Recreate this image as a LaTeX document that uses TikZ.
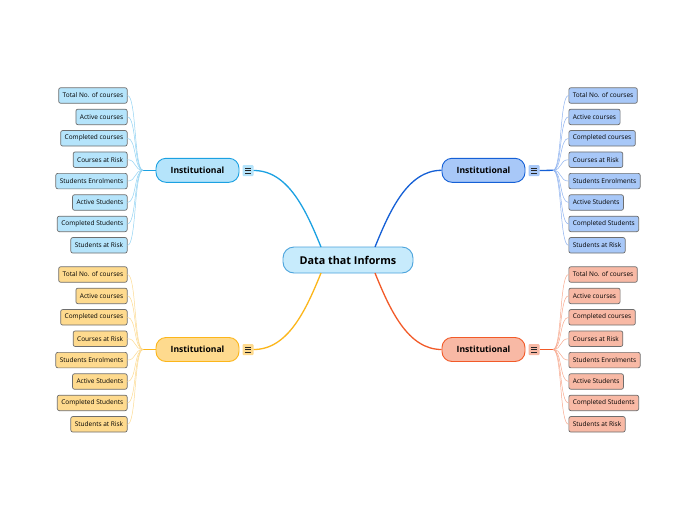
\documentclass[tikz,border=0pt]{standalone}
\usepackage{fontspec}
\setmainfont{Open Sans}
\definecolor{cfill}{HTML}{C7EBFC}
\definecolor{cdraw}{HTML}{4BA3DC}
\definecolor{afill}{HTML}{B5E4FB}
\definecolor{adraw}{HTML}{1BA1E2}
\definecolor{aleaf}{HTML}{92D3F3}
\definecolor{bfill}{HTML}{A8C8F8}
\definecolor{bdraw}{HTML}{1560D6}
\definecolor{bleaf}{HTML}{8FB3F0}
\definecolor{dfill}{HTML}{FEDA8E}
\definecolor{ddraw}{HTML}{FCB61A}
\definecolor{dleaf}{HTML}{FDDB92}
\definecolor{efill}{HTML}{F8B9A5}
\definecolor{edraw}{HTML}{F25A28}
\definecolor{eleaf}{HTML}{F8AA90}
\definecolor{leafgray}{HTML}{6E6E6E}
\begin{document}
\begin{tikzpicture}[x=1pt,y=-1pt,
  leafbox/.style={draw=leafgray, rounded corners=2pt, minimum height=15.5pt, inner xsep=4pt, inner ysep=0pt, font=\fontsize{6.5}{7.5}\selectfont, line width=0.7pt},
  instbox/.style={rounded corners=10pt, minimum width=83pt, minimum height=24pt, font=\bfseries\fontsize{8.6}{10}\selectfont, line width=0.9pt},
  centbox/.style={rounded corners=11pt, minimum width=130pt, minimum height=26pt, font=\bfseries\fontsize{10.8}{12}\selectfont, line width=0.9pt, fill=cfill, draw=cdraw},
  iconbox/.style={minimum width=11pt, minimum height=11pt, inner sep=0pt, rounded corners=1pt,
    path picture={\foreach \dy in {-2.6,0,2.6}{\draw[line width=0.6pt,black!85] ([xshift=-3pt,yshift=\dy pt]path picture bounding box.center) -- ([xshift=3pt,yshift=\dy pt]path picture bounding box.center);}}},
  mainline/.style={line width=1.3pt},
  fan/.style={line width=0.5pt}
]
\useasboundingbox (0,0) rectangle (697,520);
\fill[white] (0,0) rectangle (697,520);

% central
\node[centbox] (c) at (348,260) {Data that Informs};

% top-left
\node[instbox, fill=afill, draw=adraw] (a) at (197.5,170.3) {Institutional};
\node[iconbox, fill=afill] (ai) at (248,170.5) {};
\coordinate (aj) at (143,170.3);
% top-right
\node[instbox, fill=bfill, draw=bdraw] (b) at (483.5,170.3) {Institutional};
\node[iconbox, fill=bfill] (bi) at (534,170.5) {};
\coordinate (bj) at (553,170.3);
% bottom-left
\node[instbox, fill=dfill, draw=ddraw] (d) at (197.5,349.5) {Institutional};
\node[iconbox, fill=dfill] (di) at (248,349.5) {};
\coordinate (dj) at (143,349.5);
% bottom-right
\node[instbox, fill=efill, draw=edraw] (e) at (483.5,349.5) {Institutional};
\node[iconbox, fill=efill] (ei) at (534,349.5) {};
\coordinate (ej) at (553,349.5);

% main connectors
\coordinate (ctl) at (321,247);
\coordinate (ctr) at (375,247);
\coordinate (cbl) at (321,273);
\coordinate (cbr) at (375,273);
\draw[mainline, adraw] (ai.east) .. controls (288,170.5) and (306,210) .. (ctl);
\draw[mainline, bdraw] (b.west) .. controls (408,170.3) and (390,210) .. (ctr);
\draw[mainline, ddraw] (di.east) .. controls (288,349.5) and (306,310) .. (cbl);
\draw[mainline, edraw] (e.west) .. controls (408,349.5) and (390,310) .. (cbr);

% stubs
\draw[mainline, adraw] (a.west) -- (aj);
\draw[mainline, bdraw] (bi.east) -- (bj);
\draw[mainline, ddraw] (d.west) -- (dj);
\draw[mainline, edraw] (ei.east) -- (ej);

% leaves
\foreach \grp/\y/\fillc/\leafc in {a/95.5/afill/aleaf, d/274.5/dfill/dleaf}{
  \foreach \t [count=\i] in {Total No. of courses, Active courses, Completed courses, Courses at Risk, Students Enrolments, Active Students, Completed Students, Students at Risk}{
    \node[leafbox, fill=\fillc, anchor=east] (\grp l\i) at (127.5,{\y+(\i-1)*21.4}) {\t};
    \draw[fan, \leafc] (\grp j) .. controls ++(-9,0) and ([xshift=9pt]\grp l\i.east) .. (\grp l\i.east);
  }
}
\foreach \grp/\y/\fillc/\leafc in {b/95.5/bfill/bleaf, e/274.5/efill/eleaf}{
  \foreach \t [count=\i] in {Total No. of courses, Active courses, Completed courses, Courses at Risk, Students Enrolments, Active Students, Completed Students, Students at Risk}{
    \node[leafbox, fill=\fillc, anchor=west] (\grp l\i) at (568.5,{\y+(\i-1)*21.4}) {\t};
    \draw[fan, \leafc] (\grp j) .. controls ++(9,0) and ([xshift=-9pt]\grp l\i.west) .. (\grp l\i.west);
  }
}
\end{tikzpicture}
\end{document}
